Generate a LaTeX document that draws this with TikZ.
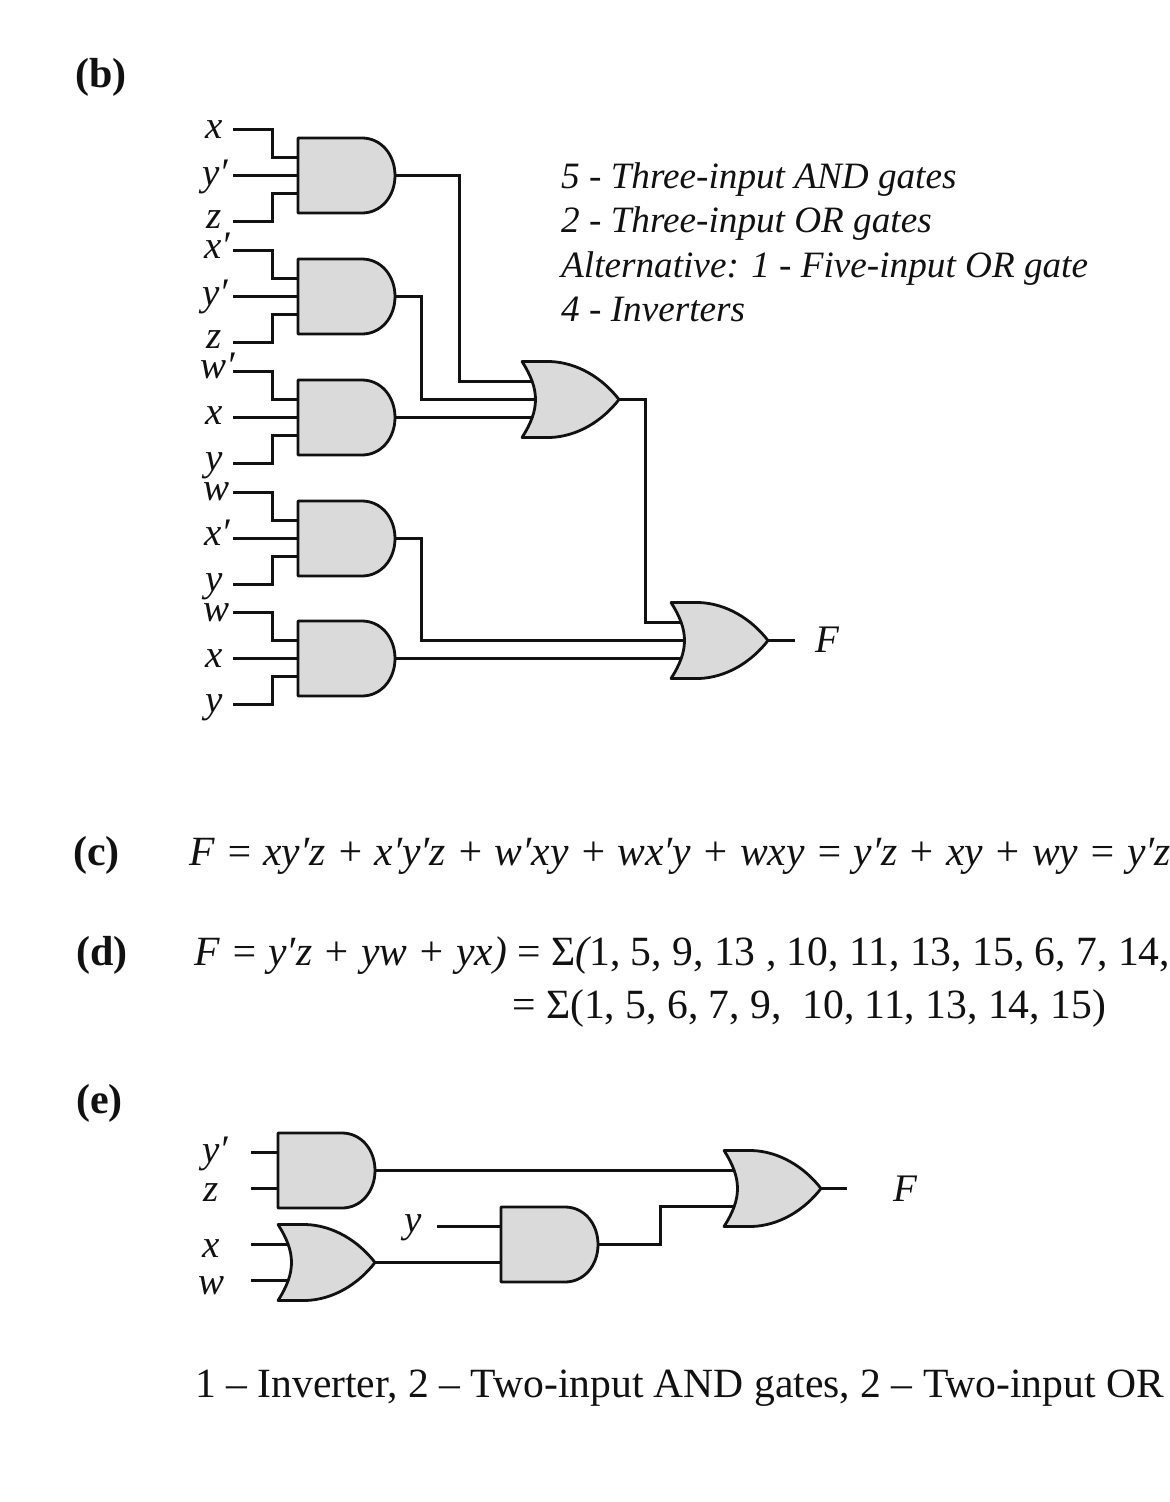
\documentclass[tikz,border=0pt]{standalone}
\usepackage{fontspec}
\setmainfont{Liberation Serif}
\definecolor{gatefill}{HTML}{DADADA}
\definecolor{inkblk}{HTML}{111111}
\tikzset{
  wire/.style={draw=inkblk,line width=2.4pt,line join=miter},
  gate/.style={draw=inkblk,fill=gatefill,line width=2.8pt,line join=round},
  sig/.style={font=\fontsize{39}{39}\selectfont\itshape,text=inkblk,inner sep=0pt,anchor=base},
  note/.style={font=\fontsize{37.2}{37.2}\selectfont\itshape,text=inkblk,inner sep=0pt,anchor=base west},
  txt/.style={font=\fontsize{41.6}{41.6}\selectfont,text=inkblk,inner sep=0pt,anchor=base west},
  part/.style={font=\fontsize{42}{42}\selectfont\bfseries,text=inkblk,inner sep=0pt,anchor=base west}
}
% and gate: name, left x, centre y
\newcommand{\andgate}[3]{%
  \path[gate] (#2,#3-37.5) -- (#2+64,#3-37.5)
    .. controls (#2+83,#3-37.5) and (#2+97,#3-21) .. (#2+97,#3)
    .. controls (#2+97,#3+21) and (#2+83,#3+37.5) .. (#2+64,#3+37.5)
    -- (#2,#3+37.5) -- cycle;
  \coordinate (#1-i1) at (#2,#3-18);
  \coordinate (#1-i2) at (#2,#3);
  \coordinate (#1-i3) at (#2,#3+18);
  \coordinate (#1-o) at (#2+97,#3);
}
% or gate: name, corner x, centre y
\newcommand{\orgate}[3]{%
  \path[gate] (#2,#3-38) -- (#2+28,#3-38)
    .. controls (#2+55,#3-37) and (#2+80,#3-22) .. (#2+97,#3)
    .. controls (#2+80,#3+22) and (#2+55,#3+37) .. (#2+28,#3+38)
    -- (#2,#3+38)
    .. controls (#2+9,#3+24) and (#2+13.5,#3+12) .. (#2+13.5,#3)
    .. controls (#2+13.5,#3-12) and (#2+9,#3-24) .. (#2,#3-38) -- cycle;
  \coordinate (#1-i1) at (#2+11,#3-18);
  \coordinate (#1-i2) at (#2+13.5,#3);
  \coordinate (#1-i3) at (#2+11,#3+18);
  \coordinate (#1-o) at (#2+97,#3);
}
% three inputs of an and gate: name, centre y
\newcommand{\threein}[2]{%
  \coordinate (#1-sa) at (233,#2-46);
  \coordinate (#1-sb) at (233,#2);
  \coordinate (#1-sc) at (233,#2+46);
  \draw[wire] (#1-sa) -- ++(39.5,0) |- (#1-i1);
  \draw[wire] (#1-sb) -- (#1-i2);
  \draw[wire] (#1-sc) -- ++(39.5,0) |- (#1-i3);
}
\begin{document}
\begin{tikzpicture}[x=1pt,y=-1pt]
\useasboundingbox (0,0) rectangle (1170,1502);
\fill[white] (0,0) rectangle (1170,1502);

\node[part] (pb) at (75,87) {(b)};
\node[part] (pc) at (73,865) {(c)};
\node[part] (pd) at (76,965) {(d)};
\node[part] (pe) at (76,1113) {(e)};

% --- part b gates
\andgate{a1}{298}{175.5}
\andgate{a2}{298}{296.5}
\andgate{a3}{298}{417.5}
\andgate{a4}{298}{538.5}
\andgate{a5}{298}{658.5}
\orgate{o1}{522}{399.5}
\orgate{o2}{671}{640.5}

\threein{a1}{175.5}
\threein{a2}{296.5}
\threein{a3}{417.5}
\threein{a4}{538.5}
\threein{a5}{658.5}

\draw[wire] (a1-o) -- ++(64.5,0) |- (o1-i1);
\draw[wire] (a2-o) -- ++(26.5,0) |- (o1-i2);
\draw[wire] (a3-o) -- (o1-i3);
\draw[wire] (o1-o) -- ++(26.5,0) |- (o2-i1);
\draw[wire] (a4-o) -- ++(26.5,0) |- (o2-i2);
\draw[wire] (a5-o) -- (o2-i3);
\coordinate (fb) at (795,640.5);
\draw[wire] (o2-o) -- (fb);

\node[sig] (l1) at (214,138) {x};
\node[sig] (l2) at (215,185) {y′};
\node[sig] (l3) at (214,228) {z};
\node[sig] (l4) at (217,258) {x′};
\node[sig] (l5) at (215,305) {y′};
\node[sig] (l6) at (214,348) {z};
\node[sig] (l7) at (218,378) {w′};
\node[sig] (l8) at (214,424) {x};
\node[sig] (l9) at (214,470) {y};
\node[sig] (l10) at (217,500) {w};
\node[sig] (l11) at (217,545) {x′};
\node[sig] (l12) at (214,591) {y};
\node[sig] (l13) at (217,621) {w};
\node[sig] (l14) at (214,667) {x};
\node[sig] (l15) at (214,712) {y};
\node[sig,anchor=base west] (fbl) at (815,652) {F};

\node[note] (n1) at (561,188) {5 - Three-input AND gates};
\node[note] (n2) at (561,232) {2 - Three-input OR gates};
\node[note] (n3) at (561,277) {Alternative: 1 - Five-input OR gate};
\node[note] (n4) at (561,321) {4 - Inverters};

% --- equations
\node[txt] (eqc) at (189,865) {\itshape F = xy′z + x′y′z + w′xy + wx′y + wxy = y′z + xy + wy = y′z};
\node[txt] (eqd) at (194,965) {\itshape F = y′z + yw + yx) \upshape = Σ\itshape(\upshape 1, 5, 9, 13 , 10, 11, 13, 15, 6, 7, 14,};
\node[txt] (eqd2) at (512,1018) {= Σ(1, 5, 6, 7, 9,\ \ 10, 11, 13, 14, 15)};
\node[txt] (eqe) at (195,1397) {1 – Inverter, 2 – Two-input AND gates, 2 – Two-input OR};

% --- part e
\andgate{e1}{278}{1170.5}
\andgate{e2}{501}{1244.5}
\orgate{e3}{278}{1262.5}
\orgate{e4}{724}{1188.5}

\coordinate (s1) at (251,1152.5);
\coordinate (s2) at (251,1188.5);
\coordinate (s3) at (251,1244.5);
\coordinate (s4) at (251,1280.5);
\coordinate (s5) at (437,1226.5);
\coordinate (fe) at (847,1188.5);
\draw[wire] (s1) -- (e1-i1);
\draw[wire] (s2) -- (e1-i3);
\draw[wire] (s3) -- (e3-i1);
\draw[wire] (s4) -- (e3-i3);
\draw[wire] (s5) -- (e2-i1);
\draw[wire] (e3-o) -- (e2-i3);
\draw[wire] (e1-o) -- (e4-i1);
\draw[wire] (e2-o) -- ++(62.5,0) |- (e4-i3);
\draw[wire] (e4-o) -- (fe);

\node[sig] (m1) at (215,1162) {y′};
\node[sig] (m2) at (211,1201) {z};
\node[sig] (m3) at (211,1257) {x};
\node[sig] (m4) at (212,1294) {w};
\node[sig] (m5) at (413,1232) {y};
\node[sig,anchor=base west] (fel) at (893,1201) {F};
\end{tikzpicture}
\end{document}
